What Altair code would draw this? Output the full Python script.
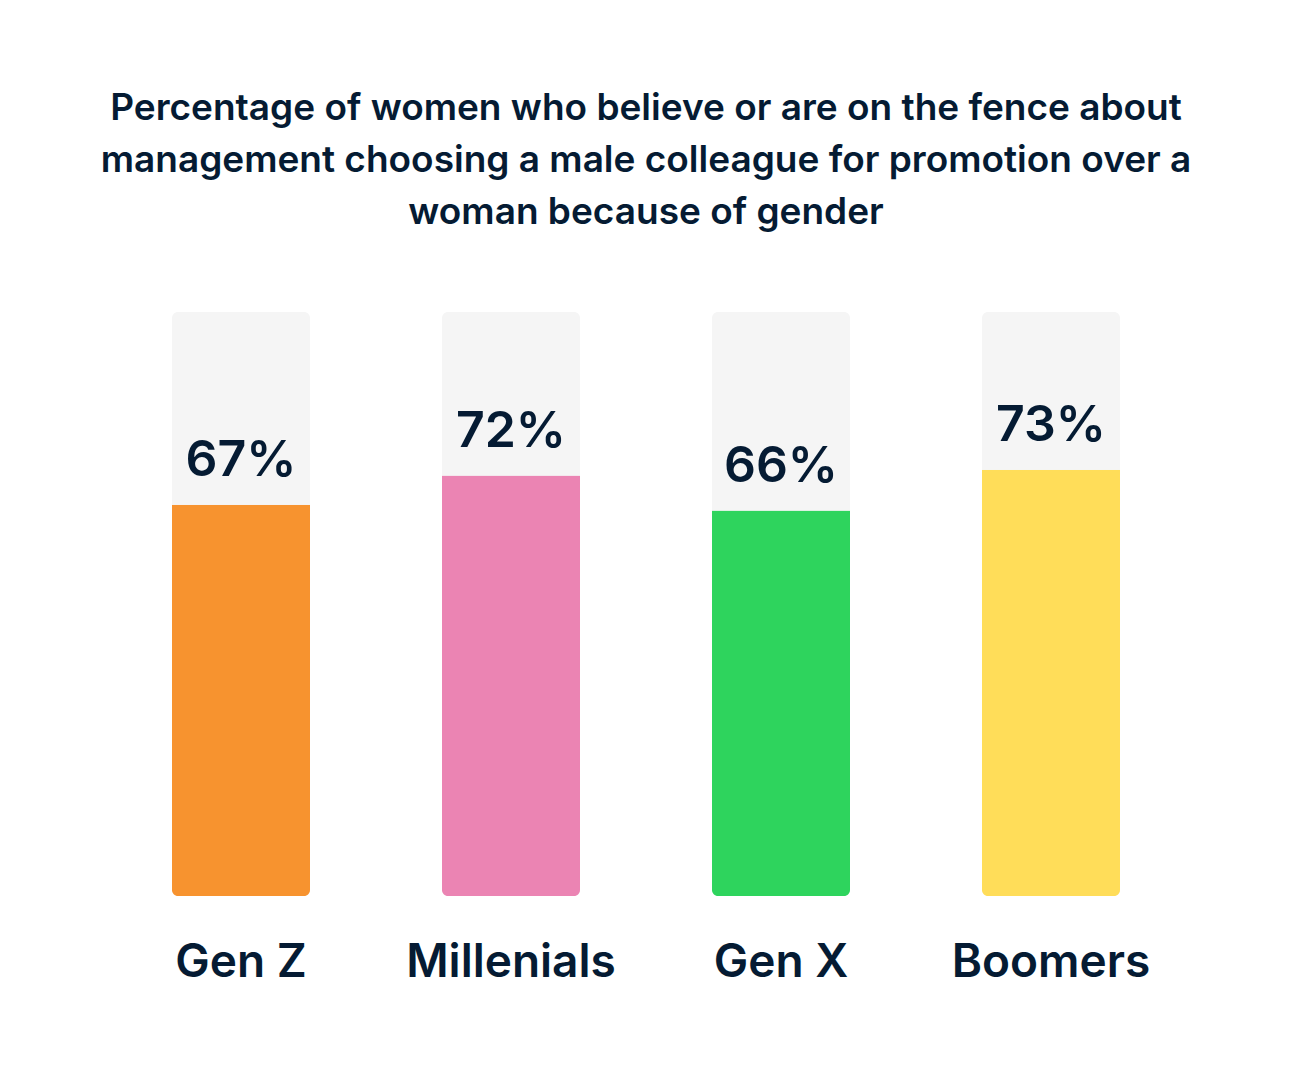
import altair as alt
import pandas as pd

categories = ["Gen Z", "Millenials", "Gen X", "Boomers"]
values = [67, 72, 66, 73]
labels = ["67%", "72%", "66%", "73%"]
colors = ["#F7932F", "#EB84B3", "#2ED45D", "#FFDD59"]
full = [100, 100, 100, 100]

df = pd.DataFrame({"cat": categories, "val": values, "label": labels,
                   "color": colors, "full": full})

TEXT = "#051B33"
FONT = "Inter"

x = alt.X("cat:N", sort=categories,
          scale=alt.Scale(paddingInner=0, paddingOuter=0),
          axis=alt.Axis(title=None, labelAngle=0, labelFontSize=46, labelFont=FONT,
                        labelFontWeight=600, labelColor=TEXT, labelPadding=44,
                        labelLimit=0, domain=False, ticks=False, grid=False))
yscale = alt.Scale(domain=[0, 100])

base = alt.Chart(df)

bg = base.mark_bar(size=138, color="#F5F5F5", cornerRadius=6).encode(
    x=x,
    y=alt.Y("full:Q", scale=yscale, axis=None),
)

fg = base.mark_bar(size=138, cornerRadiusBottomLeft=6, cornerRadiusBottomRight=6).encode(
    x=x,
    y=alt.Y("val:Q", scale=yscale, axis=None),
    color=alt.Color("color:N", scale=None),
)

txt = base.mark_text(fontSize=50, font=FONT, fontWeight=600, color=TEXT,
                     baseline="alphabetic", dy=-29).encode(
    x=x,
    y=alt.Y("val:Q", scale=yscale, axis=None),
    text="label:N",
)

chart = (bg + fg + txt).properties(
    width=1080, height=584,
    background="white",
    autosize=alt.AutoSizeParams(type="none"),
    title=alt.TitleParams(
        text=["Percentage of women who believe or are on the fence about",
              "management choosing a male colleague for promotion over a",
              "woman because of gender"],
        fontSize=37, font=FONT, fontWeight=600, color=TEXT, lineHeight=52,
        anchor="middle", offset=80),
    padding={"left": 98, "right": 98, "top": 304, "bottom": 150},
).configure_view(strokeWidth=0, stroke=None)

chart.save("out.html", embed_options={"renderer": "svg", "actions": False})
